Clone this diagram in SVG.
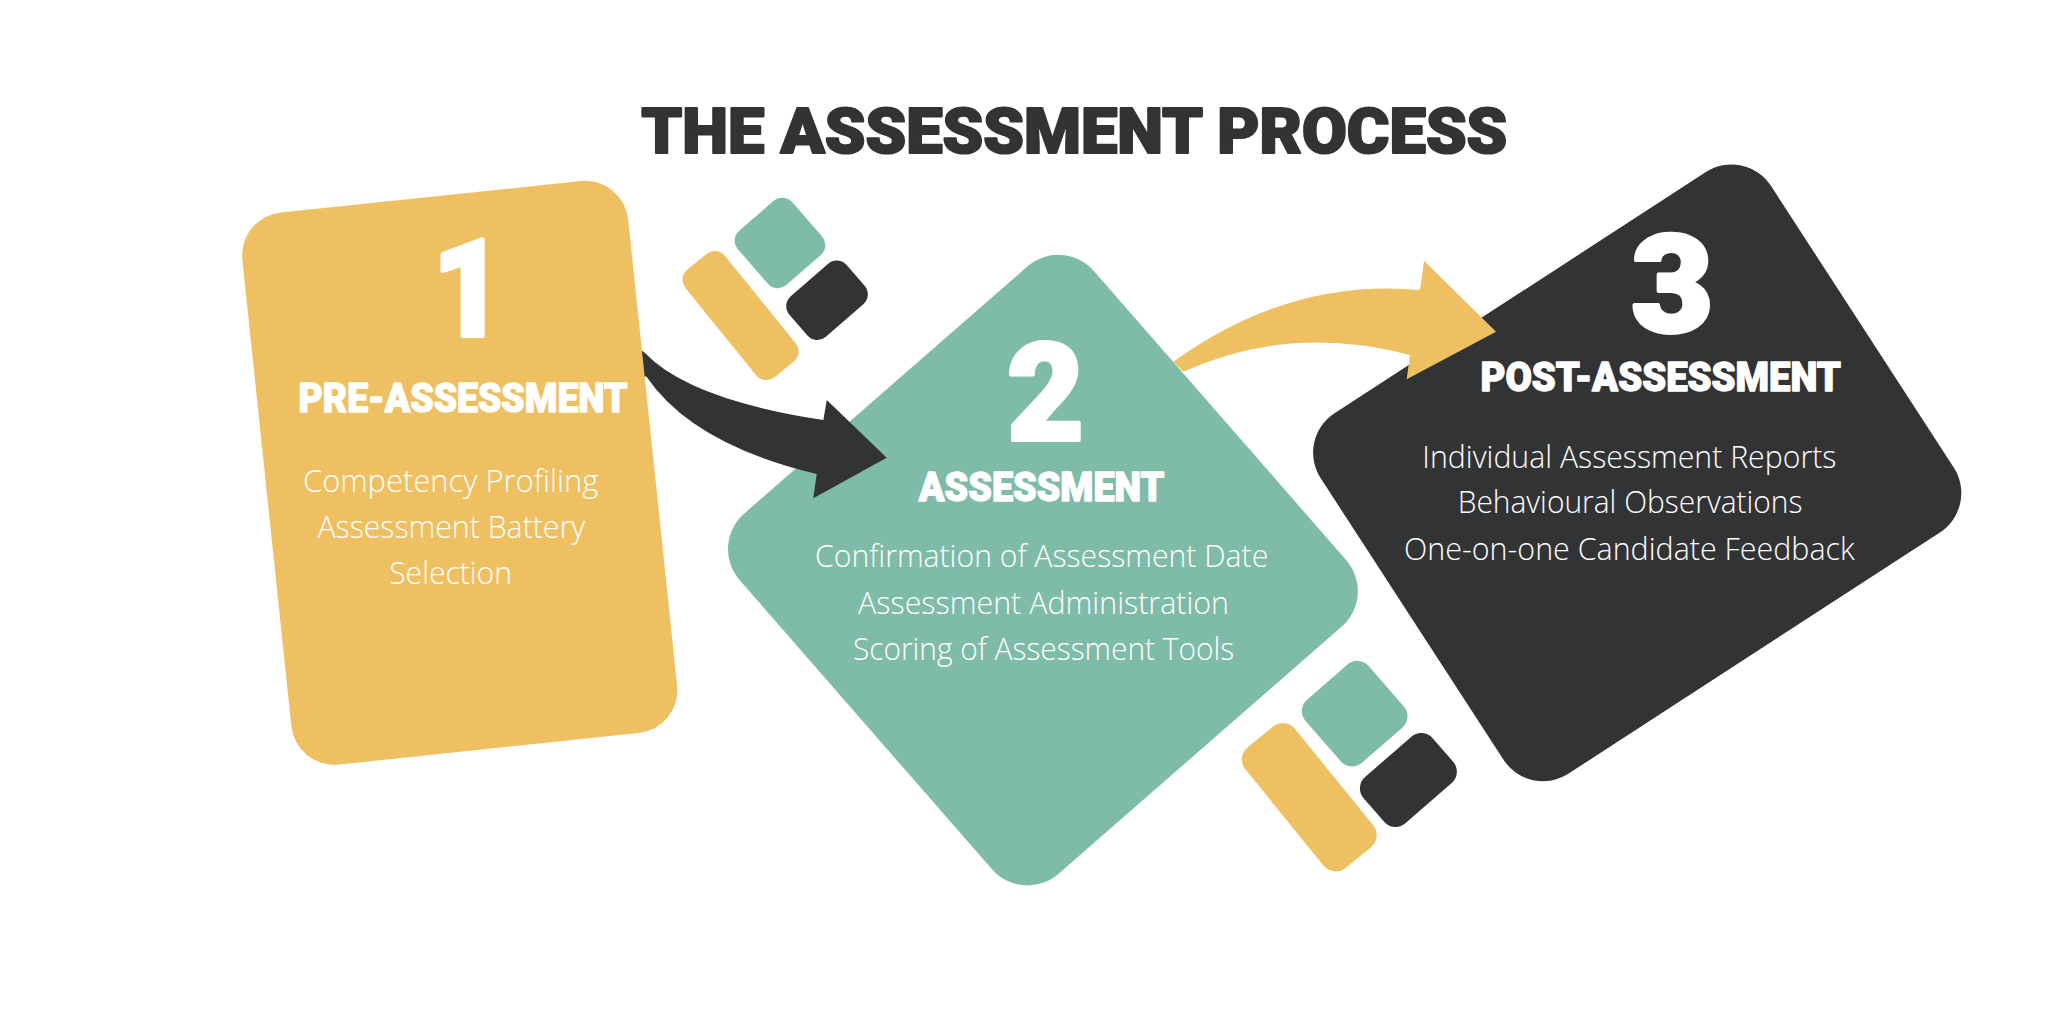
<svg xmlns="http://www.w3.org/2000/svg" width="2048" height="1024" viewBox="0 0 2048 1024">
<style>
.y{fill:#EFC062}.t{fill:#7FBBA9}.d{fill:#323335}
.title{font-family:Roboto,Lato,"Liberation Sans",sans-serif;font-weight:900;font-size:48px;fill:#323335;stroke:#323335;stroke-width:1.6;stroke-linejoin:round;text-anchor:middle}
.num{font-family:Roboto,Lato,"Liberation Sans",sans-serif;font-weight:900;font-size:104px;fill:#fff;stroke:#fff;stroke-width:3;stroke-linejoin:round;text-anchor:middle}
.head{font-family:Roboto,Lato,"Liberation Sans",sans-serif;font-weight:900;font-size:31px;fill:#fff;stroke:#fff;stroke-width:1;stroke-linejoin:round;text-anchor:middle}
.body{font-family:"Open Sans",Lato,"Liberation Sans",sans-serif;font-weight:300;font-size:24px;fill:#fff;text-anchor:middle}
</style>
<rect width="2048" height="1024" fill="#fff"/>
<g transform="scale(1.306122)">
<text id="title" class="title" x="822.5" y="117" textLength="663" lengthAdjust="spacingAndGlyphs">THE ASSESSMENT PROCESS</text>

<g id="card3">
<rect class="d" x="-205.5" y="-164.5" width="411" height="329" rx="36" transform="translate(1253.5,362) rotate(-33)"/>
<text class="num" x="1280.5" y="254" textLength="63" lengthAdjust="spacingAndGlyphs">3</text>
<text class="head" x="1271.5" y="299.5" textLength="276" lengthAdjust="spacingAndGlyphs">POST-ASSESSMENT</text>
<text class="body" x="1247.5" y="358" textLength="317" lengthAdjust="spacingAndGlyphs">Individual Assessment Reports</text>
<text class="body" x="1248" y="393" textLength="264" lengthAdjust="spacingAndGlyphs">Behavioural Observations</text>
<text class="body" x="1247.5" y="429" textLength="345" lengthAdjust="spacingAndGlyphs">One-on-one Candidate Feedback</text>
</g>

<g id="card2">
<rect class="t" x="-183" y="-180" width="366" height="360" rx="36" transform="translate(798.5,436.5) rotate(48.9)"/>
<text class="num" x="800.5" y="337" textLength="59" lengthAdjust="spacingAndGlyphs">2</text>
<text class="head" x="797.5" y="383.5" textLength="188" lengthAdjust="spacingAndGlyphs">ASSESSMENT</text>
<text class="body" x="797.5" y="434" textLength="347" lengthAdjust="spacingAndGlyphs">Confirmation of Assessment Date</text>
<text class="body" x="799" y="470" textLength="284" lengthAdjust="spacingAndGlyphs">Assessment Administration</text>
<text class="body" x="799" y="505" textLength="292" lengthAdjust="spacingAndGlyphs">Scoring of Assessment Tools</text>
</g>

<g id="connectors">
<path id="arrow-1-2" class="d" d="M475,255 L493.8,270.3 Q528,306 630.4,321.6 L633,306.3 L678.9,350.4 L622.7,381.5 L625.3,362.9 Q530,340 495,288.4 L478,286 Z"/>
<path id="arrow-2-3" class="y" d="M898.3,276.9 Q987.65,212.55 1087.2,222 L1090.3,199.6 L1145.4,254 L1077,290.4 L1079.5,271.8 Q987.65,247.6 906,284.6 Z"/>
</g>

<g id="card1">
<rect class="y" x="-148.5" y="-212.5" width="297" height="425" rx="33" transform="translate(352,362) rotate(-6)"/>
<text class="num" x="358.5" y="257" textLength="55" lengthAdjust="spacingAndGlyphs">1</text>
<text class="head" x="354.5" y="315.5" textLength="252" lengthAdjust="spacingAndGlyphs">PRE-ASSESSMENT</text>
<text class="body" x="345" y="377" textLength="226" lengthAdjust="spacingAndGlyphs">Competency Profiling</text>
<text class="body" x="345.5" y="412" textLength="205" lengthAdjust="spacingAndGlyphs">Assessment Battery</text>
<text class="body" x="345" y="447" textLength="94" lengthAdjust="spacingAndGlyphs">Selection</text>
</g>

<g id="decor-top">
<rect class="t" x="-27.5" y="-27.5" width="55" height="55" rx="10" transform="translate(597.2,186) rotate(49)"/>
<rect class="d" x="-20.5" y="-29" width="41" height="58" rx="10" transform="translate(633.2,229.9) rotate(49)"/>
<rect class="y" x="-53" y="-19.5" width="106" height="39" rx="10" transform="translate(567,241.6) rotate(51)"/>
</g>
<g id="decor-bottom">
<rect class="t" x="-32" y="-32" width="64" height="64" rx="11.5" transform="translate(1037.2,546.4) rotate(49)"/>
<rect class="d" x="-23.5" y="-35" width="47" height="70" rx="11.5" transform="translate(1078.3,597.2) rotate(49)"/>
<rect class="y" x="-59.5" y="-24.5" width="119" height="49" rx="12" transform="translate(1002.4,610.4) rotate(51)"/>
</g>
</g>
</svg>
